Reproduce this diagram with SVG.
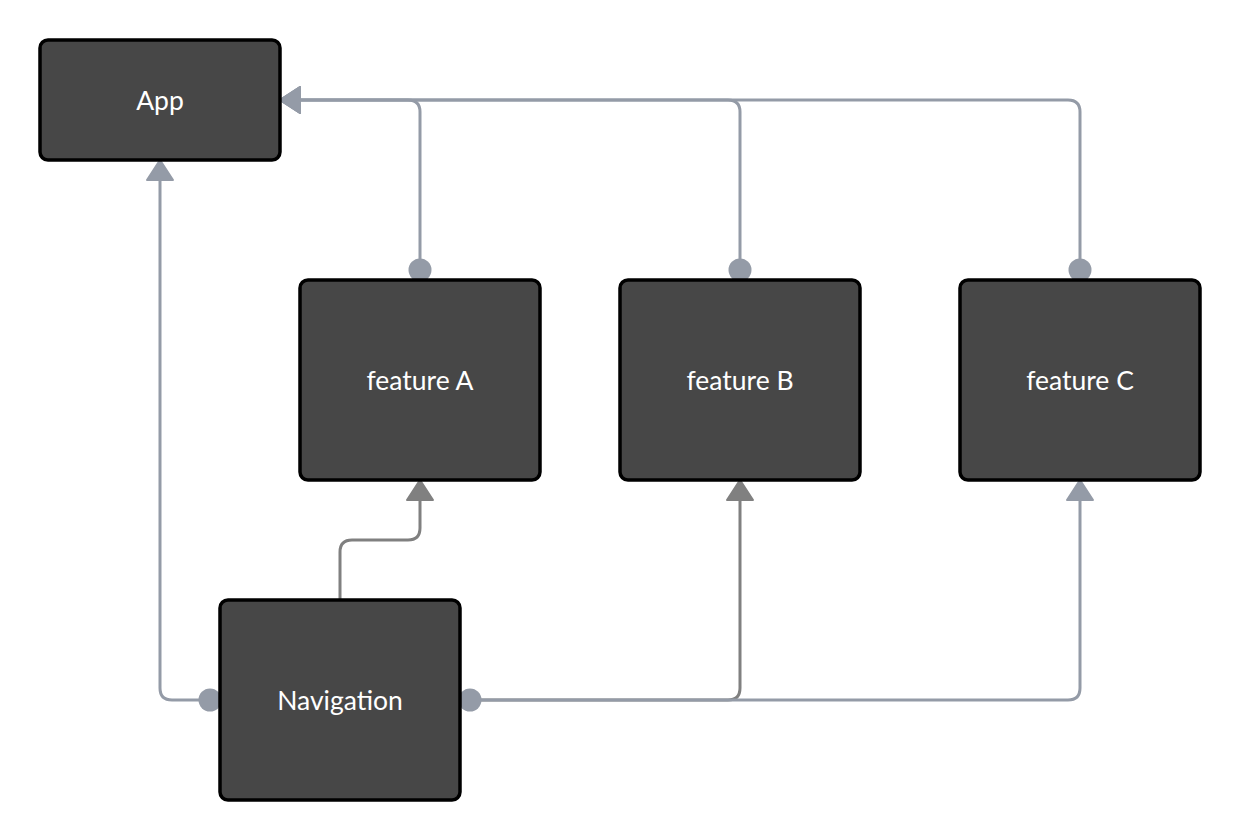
<svg xmlns="http://www.w3.org/2000/svg" width="1240" height="840" viewBox="0 0 1240 840">
<style>
.node rect{fill:#474747;stroke:#000;stroke-width:3.5}
.node text{fill:#fff;font-family:Lato,"Liberation Sans",sans-serif;font-size:26.5px;text-anchor:middle;dominant-baseline:central}
.e{fill:none;stroke-width:3}
.bg{stroke:#949ba7}
.g{stroke:#808080}
</style>
<defs>
<marker id="ab" markerUnits="userSpaceOnUse" markerWidth="30" markerHeight="30" refX="1" refY="15" orient="auto" overflow="visible">
<path d="M1,2 L21,15 L1,28 Z" fill="#949ba7" stroke="#949ba7" stroke-width="2" stroke-linejoin="round"/>
</marker>
<marker id="ag" markerUnits="userSpaceOnUse" markerWidth="30" markerHeight="30" refX="1" refY="15" orient="auto" overflow="visible">
<path d="M1,2 L21,15 L1,28 Z" fill="#808080" stroke="#808080" stroke-width="2" stroke-linejoin="round"/>
</marker>
<marker id="cb" markerUnits="userSpaceOnUse" markerWidth="30" markerHeight="30" refX="15" refY="15" overflow="visible">
<circle cx="15" cy="15" r="11.5" fill="#949ba7"/>
</marker>
</defs>
<rect width="1240" height="840" fill="#fff"/>
<g id="connectors">
<path class="e bg" d="M420,270 V112 Q420,100 408,100 H300" marker-start="url(#cb)" marker-end="url(#ab)"/>
<path class="e bg" d="M740,270 V112 Q740,100 728,100 H300" marker-start="url(#cb)" marker-end="url(#ab)"/>
<path class="e bg" d="M1080,270 V112 Q1080,100 1068,100 H300" marker-start="url(#cb)" marker-end="url(#ab)"/>
<path class="e bg" d="M210,700 H172 Q160,700 160,688 V180" marker-start="url(#cb)" marker-end="url(#ab)"/>
<path class="e g" d="M340,600 V552 Q340,540 352,540 H408 Q420,540 420,528 V500" marker-end="url(#ag)"/>
<path class="e g" d="M470,700 H728 Q740,700 740,688 V500" marker-end="url(#ag)"/>
<path class="e bg" d="M470,700 H1068 Q1080,700 1080,688 V500" marker-start="url(#cb)" marker-end="url(#ab)"/>
</g>
<g id="app" class="node"><rect x="40" y="40" width="240" height="120" rx="8"/><text x="160" y="100">App</text></g>
<g id="featureA" class="node"><rect x="300" y="280" width="240" height="200" rx="8"/><text x="420" y="380">feature A</text></g>
<g id="featureB" class="node"><rect x="620" y="280" width="240" height="200" rx="8"/><text x="740" y="380">feature B</text></g>
<g id="featureC" class="node"><rect x="960" y="280" width="240" height="200" rx="8"/><text x="1080" y="380">feature C</text></g>
<g id="navigation" class="node"><rect x="220" y="600" width="240" height="200" rx="8"/><text x="340" y="700">Navigation</text></g>
</svg>
